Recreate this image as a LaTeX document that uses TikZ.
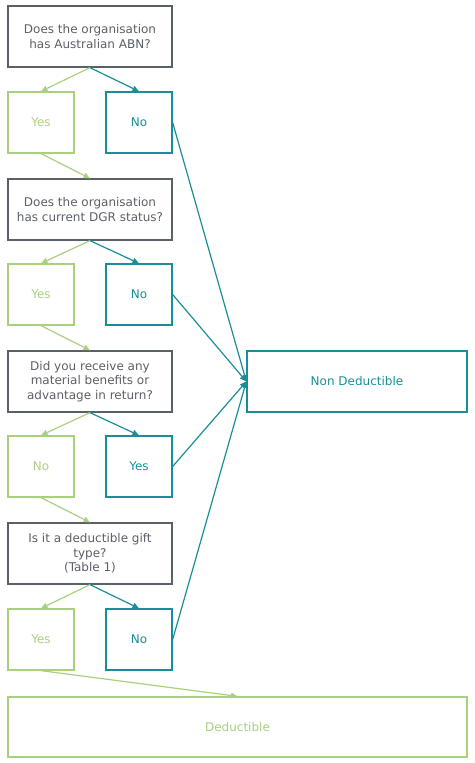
\documentclass[tikz,border=0pt]{standalone}
\usepackage{fontspec}
\setmainfont{DejaVu Sans}
\usetikzlibrary{arrows.meta}
\definecolor{qgray}{HTML}{5A6068}
\definecolor{ygreen}{HTML}{A9D07F}
\definecolor{nteal}{HTML}{1A8E98}
\begin{document}
\begin{tikzpicture}[x=1pt,y=1pt,
  every node/.style={font=\fontsize{12}{14.5}\selectfont,inner sep=0pt,align=center},
  qbox/.style={draw=qgray,line width=1.3pt,minimum width=164pt,minimum height=61pt,text=qgray},
  ybox/.style={draw=ygreen,line width=1.3pt,minimum width=66pt,minimum height=61pt,text=ygreen},
  nbox/.style={ybox,draw=nteal,text=nteal},
  yarr/.style={ygreen,line width=1.2pt,-{Triangle[length=6.5pt,width=5.5pt]}},
  narr/.style={yarr,nteal}]
\useasboundingbox (0,0) rectangle (474,763);
%questions
\node[qbox](q1) at (90,726.5){Does the organisation\\has Australian ABN?};
\node[qbox](q2) at (90,553.5){Does the organisation\\has current DGR status?};
\node[qbox](q3) at (90,381.5){Did you receive any\\material benefits or\\advantage in return?};
\node[qbox](q4) at (90,209.5){Is it a deductible gift\\type?\\(Table 1)};
%answers
\foreach \i/\y/\l/\r in {1/640.5/Yes/No,2/468.5/Yes/No,3/296.5/No/Yes,4/123.5/Yes/No}{
  \node[ybox](y\i) at (41,\y){\l};
  \node[nbox](n\i) at (139,\y){\r};
  \draw[yarr](q\i.south)--(y\i.north);
  \draw[narr](q\i.south)--(n\i.north);
}
%results
\node[nbox,minimum width=220pt](nd) at (357,381.5){Non Deductible};
\node[ybox,minimum width=459pt,minimum height=60pt](de) at (237.5,36){Deductible};
\foreach \i/\j in {1/2,2/3,3/4}
  \draw[yarr](y\i.south)--(q\j.north);
\foreach \i in {1,...,4}
  \draw[narr](n\i.east)--(nd.west);
\draw[yarr](y4.south)--(de.north);
\end{tikzpicture}
\end{document}
